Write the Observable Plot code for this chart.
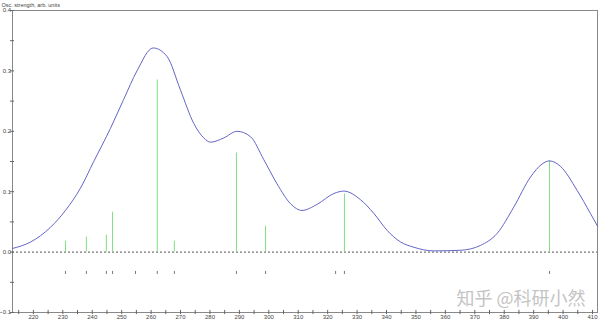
<!DOCTYPE html>
<html>
<head>
<meta charset="utf-8">
<script src="https://cdn.jsdelivr.net/npm/d3@7"></script>
<script src="https://cdn.jsdelivr.net/npm/@observablehq/plot@0.6"></script>
<style>
body { margin: 0; background: #fff; }
#chart svg { display: block; }
</style>
</head>
<body>
<div id="chart"></div>
<script>
// Transition wavelengths (nm) and oscillator strengths
const stickNm = [230.9, 238.0, 244.8, 246.9, 254.7, 262.1, 267.9, 289.0, 298.9, 322.7, 325.7, 395.4];
const stickF  = [0.018, 0.025, 0.028, 0.066, 0.0, 0.285, 0.018, 0.164, 0.043, 0.0, 0.096, 0.151];

// Broadened spectrum
const curveNm = [212.9, 219.0, 225.8, 230.9, 236.0, 240.5, 246.2, 250.7, 255.2, 260.7, 265.4, 270.0, 274.5, 277.9, 280.2, 284.7, 289.2, 293.8, 298.3, 302.8, 307.4, 311.3, 316.4, 322.1, 325.5, 331.1, 335.7, 340.2, 344.7, 349.3, 356.1, 365.1, 371.9, 377.6, 383.3, 388.9, 392.9, 395.4, 399.1, 404.8, 409.3, 411.7];
const curveF  = [0.006, 0.0166, 0.041, 0.069, 0.106, 0.150, 0.205, 0.253, 0.300, 0.338, 0.324, 0.268, 0.213, 0.189, 0.182, 0.189, 0.200, 0.191, 0.153, 0.113, 0.080, 0.069, 0.079, 0.097, 0.101, 0.087, 0.064, 0.036, 0.017, 0.008, 0.002, 0.003, 0.011, 0.031, 0.075, 0.124, 0.146, 0.151, 0.142, 0.102, 0.064, 0.043];

const xTicks = [220, 230, 240, 250, 260, 270, 280, 290, 300, 310, 320, 330, 340, 350, 360, 370, 380, 390, 400, 410];
const yTicks = [-0.1, 0.0, 0.1, 0.2, 0.3, 0.4];
const yTitle = "Osc. strength, arb. units";
const watermark = "知乎 @科研小然";

const xMin = 212.9, xMax = 411.7;
const sticks = stickNm.map((x, i) => ({x, f: stickF[i]}));
const curve = curveNm.map((x, i) => ({x, f: curveF[i]}));
const xMinor = d3.range(215, 412, 5);
const yMinor = d3.range(-0.1, 0.41, 0.05);
const font = "Liberation Sans, Arial, sans-serif";

const plot = Plot.plot({
  width: 600,
  height: 322,
  marginLeft: 12,
  marginRight: 3,
  marginTop: 10,
  marginBottom: 10,
  style: {fontFamily: font, fontSize: "6px", color: "#333", background: "#fff"},
  x: {type: "linear", domain: [xMin, xMax], axis: null},
  y: {type: "linear", domain: [-0.1, 0.4], axis: null},
  marks: [
    Plot.frame({stroke: "#888", strokeWidth: 1}),
    Plot.ruleY([0], {stroke: "#555", strokeDasharray: "2,2"}),
    Plot.ruleX(sticks.filter(d => d.f > 0), {x: "x", y1: 0, y2: "f", stroke: "#7ee07e", strokeWidth: 1}),
    Plot.ruleX(sticks, {x: "x", y1: -0.032, y2: -0.037, stroke: "#777", strokeWidth: 1}),
    Plot.line(curve, {x: "x", y: "f", stroke: "#6464c8", strokeWidth: 1, curve: "monotone-x"}),
    // x axis ticks and labels
    Plot.ruleX(xMinor, {x: d => d, y1: -0.1035, y2: -0.0965, stroke: "#666"}),
    Plot.text(xTicks, {x: d => d, frameAnchor: "bottom", dy: 6, text: d => String(d), fill: "#444", fontSize: 6, fontFamily: font}),
    // y axis ticks and labels
    Plot.ruleY(yMinor, {y: d => d, x1: xMin - 0.7, x2: xMin + 0.7, stroke: "#666"}),
    Plot.text(yTicks, {y: d => d, frameAnchor: "left", dx: -1.5, textAnchor: "end", text: d => d3.format(".1f")(d), fill: "#444", fontSize: 6, fontFamily: font}),
    Plot.text([yTitle], {frameAnchor: "top-left", dx: -11, dy: -7.5, textAnchor: "start", text: d => d, fill: "#444", fontSize: 5.5, fontFamily: font}),
    Plot.text([watermark], {frameAnchor: "bottom-right", dx: -12, dy: -8, textAnchor: "end", lineAnchor: "bottom", text: d => d, fill: "#c4c4c4", fontSize: 18, fontFamily: "Noto Sans CJK SC"})
  ]
});
document.getElementById("chart").appendChild(plot);
</script>
</body>
</html>
